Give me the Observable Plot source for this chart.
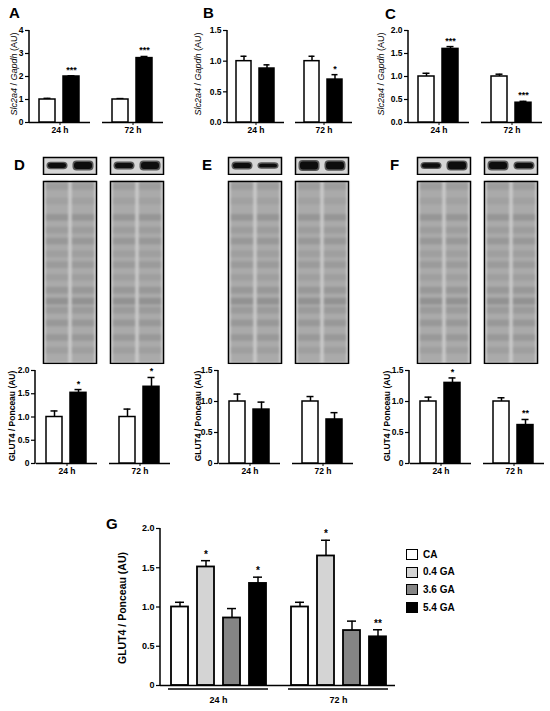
<!DOCTYPE html>
<html><head><meta charset="utf-8">
<script src="https://cdn.jsdelivr.net/npm/d3@7"></script>
<script src="https://cdn.jsdelivr.net/npm/@observablehq/plot@0.6"></script>
<style>
body{margin:0;background:#fff;}
#fig{position:relative;width:550px;height:711px;overflow:hidden;font-family:"Liberation Sans",Arial,sans-serif;color:#000;}
.lbl{position:absolute;font-weight:bold;font-size:15px;line-height:1;}
.ylab{position:absolute;transform:translate(-50%,-50%) rotate(-90deg);white-space:nowrap;line-height:1;}
</style></head><body><div id="fig"></div>
<script>
// ---------- data ----------
const times = ["24 h", "72 h"];
const groups2 = ["CA", "GA"];
const groupsG = ["CA", "0.4 GA", "3.6 GA", "5.4 GA"];
const colorsG = ["#ffffff", "#d4d4d4", "#858585", "#000000"];

// order: 24 h CA, 24 h GA, 72 h CA, 72 h GA
const aMean = [1.0, 2.0, 1.0, 2.8];
const aErr  = [0.05, 0.03, 0.04, 0.07];
const aSig  = ["", "***", "", "***"];

const bMean = [1.0, 0.88, 1.0, 0.70];
const bErr  = [0.08, 0.06, 0.08, 0.08];
const bSig  = ["", "", "", "*"];

const cMean = [1.0, 1.6, 1.0, 0.43];
const cErr  = [0.07, 0.05, 0.05, 0.03];
const cSig  = ["", "***", "", "***"];

const dMean = [1.0, 1.52, 1.0, 1.65];
const dErr  = [0.13, 0.07, 0.17, 0.2];
const dSig  = ["", "*", "", "*"];

const eMean = [1.0, 0.87, 1.0, 0.71];
const eErr  = [0.12, 0.12, 0.08, 0.11];
const eSig  = ["", "", "", ""];

const fMean = [1.0, 1.3, 1.0, 0.62];
const fErr  = [0.07, 0.08, 0.06, 0.09];
const fSig  = ["", "*", "", "**"];

// panel G, per series: [24 h, 72 h]
const gCA = [1.0, 1.0],   gCAerr = [0.06, 0.06], gCAsig = ["", ""];
const g04 = [1.51, 1.65], g04err = [0.08, 0.2],  g04sig = ["*", "*"];
const g36 = [0.86, 0.70], g36err = [0.12, 0.12], g36sig = ["", ""];
const g54 = [1.3, 0.62],  g54err = [0.08, 0.09], g54sig = ["*", "**"];

// tick values
const ticksA = [0, 1, 2, 3, 4];
const ticksB = [0, 0.5, 1.0, 1.5];
const ticksC = [0, 0.5, 1.0, 1.5, 2.0];
const ticksD = [0, 0.5, 1.0, 1.5, 2.0];
const ticksE = [0, 0.5, 1.0, 1.5];
const ticksF = [0, 0.5, 1.0, 1.5];
const ticksG = [0, 0.5, 1.0, 1.5, 2.0];

// western blot band thickness (fraction of strip), order as above
const bandD = [0.28, 0.42, 0.3, 0.42];
const bandE = [0.3, 0.22, 0.48, 0.45];
const bandF = [0.26, 0.44, 0.42, 0.3];
// Ponceau stain stripes: position (top=0) and darkness
const stripePos = [0.03, 0.11, 0.2, 0.27, 0.33, 0.4, 0.46, 0.53, 0.6, 0.66, 0.71, 0.78, 0.86, 0.93];
const stripeStr = [0.35, 0.25, 0.55, 0.35, 0.5, 0.3, 0.4, 0.3, 0.5, 0.65, 0.4, 0.5, 0.45, 0.3];

// ---------- helpers ----------
const FONT = '"Liberation Sans", Arial, sans-serif';
const fig = document.getElementById("fig");
const svgNS = "http://www.w3.org/2000/svg";

function rows2(mean, err, sig) {
  return times.flatMap((t, ti) => groups2.map((g, gi) => {
    const k = ti * 2 + gi;
    return {time: t, group: g, value: mean[k], hi: mean[k] + err[k], sig: sig[k]};
  }));
}
function rowsG() {
  const series = [[gCA, gCAerr, gCAsig], [g04, g04err, g04sig], [g36, g36err, g36sig], [g54, g54err, g54sig]];
  return times.flatMap((t, ti) => groupsG.map((g, gi) => {
    const [m, e, s] = series[gi];
    return {time: t, group: g, value: m[ti], hi: m[ti] + e[ti], sig: s[ti]};
  }));
}
function place(el, left, top, w, extra = "") {
  const d = document.createElement("div");
  d.style.cssText = `position:absolute;left:${left}px;top:${top}px;width:${w}px;${extra}`;
  d.appendChild(el);
  fig.appendChild(d);
}
function yLineMark(yDomain) {
  return (index, scales, values, dims) => {
    const l = document.createElementNS(svgNS, "line");
    l.setAttribute("x1", dims.marginLeft);
    l.setAttribute("x2", dims.marginLeft);
    l.setAttribute("y1", scales.y(yDomain[0]) + 0.75);
    l.setAttribute("y2", scales.y(yDomain[1]));
    l.setAttribute("stroke", "black");
    l.setAttribute("stroke-width", 1.5);
    return l;
  };
}
const fmt1 = d3.format(".1f");
const fmt0 = d => d === 0 ? "0" : d.toFixed(1);

function barPanel(o) {
  const common = {
    width: o.W, height: o.H, marginLeft: o.ml, marginRight: o.mr, marginTop: o.mt, marginBottom: o.mb,
    style: {fontFamily: FONT, fontSize: o.fs + "px", fontWeight: "bold", background: "transparent", overflow: "visible"}
  };
  const bars = Plot.plot({
    ...common,
    fx: {domain: times, paddingInner: o.fxIn, paddingOuter: o.fxOut, label: null, axis: "bottom",
         tickSize: o.fxTick, tickPadding: o.fxPad, fontSize: o.xfs},
    x: {domain: o.groups, paddingInner: o.xIn, paddingOuter: o.xOut, axis: null},
    y: {domain: o.yDomain, axis: null},
    color: {domain: o.groups, range: o.colors},
    marks: [
      Plot.ruleY([0], {stroke: "black", strokeWidth: 1.5, dy: o.bracket}),
      Plot.ruleX(o.rows, {fx: "time", x: "group", y1: "value", y2: "hi", stroke: "black", strokeWidth: 1.5}),
      Plot.tickY(o.rows, {fx: "time", x: "group", y: "hi", stroke: "black", strokeWidth: 1.5, insetLeft: o.cap, insetRight: o.cap}),
      Plot.barY(o.rows, {fx: "time", x: "group", y: "value", fill: "group", stroke: "black", strokeWidth: o.bsw}),
      Plot.text(o.rows.filter(d => d.sig), {fx: "time", x: "group", y: "hi", text: "sig", dy: -3,
        lineAnchor: "bottom", fontSize: o.sfs, fontWeight: "bold"})
    ]
  });
  place(bars, o.left, o.top, o.W);
  const axisMarks = [
    Plot.axisY({ticks: o.ticks, tickFormat: o.fmt, tickSize: 4, tickPadding: 2, label: null, strokeWidth: 1.2}),
    yLineMark(o.yDomain)
  ];
  if (o.fullX) axisMarks.push(Plot.ruleY([0], {stroke: "black", strokeWidth: 1.5}));
  const axis = Plot.plot({...common, y: {domain: o.yDomain}, marks: axisMarks});
  place(axis, o.left, o.top, o.W);
}

const blotFx = {domain: times, paddingInner: 0.2074, paddingOuter: 0, axis: null};
const blotX = {domain: groups2, padding: 0, axis: null};

function bandBlot(thick, left) {
  const rows = times.flatMap((t, ti) => groups2.map((g, gi) => ({time: t, lane: g, w: thick[ti * 2 + gi]})));
  const body = Plot.plot({
    width: 123, height: 19, margin: 1,
    style: {background: "transparent"},
    fx: blotFx, x: blotX, y: {domain: [0, 1], axis: null},
    marks: [
      Plot.frame({fill: "#d6d6d6"}),
      Plot.barY(rows, {fx: "time", x: "lane", y1: d => 0.5 - d.w / 2 - 0.08, y2: d => 0.5 + d.w / 2 + 0.08,
        fill: "#555", insetLeft: 2.5, insetRight: 2.5, rx: 4}),
      Plot.barY(rows, {fx: "time", x: "lane", y1: d => 0.5 - d.w / 2, y2: d => 0.5 + d.w / 2,
        fill: "#0d0d0d", insetLeft: 4, insetRight: 4, rx: 3})
    ]
  });
  place(body, left, 156, 123, "filter:blur(0.5px);");
  const frame = Plot.plot({
    width: 123, height: 19, margin: 1, style: {background: "transparent"},
    fx: blotFx, x: blotX, y: {domain: [0, 1], axis: null},
    marks: [Plot.barY(rows, {fx: "time", x: "lane", y1: 0, y2: 0, fillOpacity: 0}), Plot.frame({stroke: "black", strokeWidth: 1.5})]
  });
  place(frame, left, 156, 123);
}
function ponceauBlot(left) {
  const lanes = times.flatMap(t => groups2.map(g => ({time: t, lane: g})));
  const stripes = lanes.flatMap(l => stripePos.map((s, i) => ({...l, p: s, s: stripeStr[i]})));
  const shade = d3.interpolateRgb("#aaaaaa", "#606060");
  const body = Plot.plot({
    width: 123, height: 184, margin: 1,
    style: {background: "transparent"},
    fx: blotFx, x: blotX, y: {domain: [0, 1], reverse: true, axis: null},
    marks: [
      Plot.frame({fill: "#c9c9c9"}),
      Plot.barY(lanes, {fx: "time", x: "lane", y1: 0, y2: 1, fill: "#aaaaaa", insetLeft: 1.8, insetRight: 1.8}),
      Plot.barY(stripes, {fx: "time", x: "lane", y1: d => d.p - 0.018, y2: d => d.p + 0.018,
        fill: d => shade(d.s * 0.5), insetLeft: 1.8, insetRight: 1.8})
    ]
  });
  place(body, left, 180, 123, "filter:blur(0.8px);");
  const frame = Plot.plot({
    width: 123, height: 184, margin: 1, style: {background: "transparent"},
    fx: blotFx, x: blotX, y: {domain: [0, 1], axis: null},
    marks: [Plot.barY(lanes, {fx: "time", x: "lane", y1: 0, y2: 0, fillOpacity: 0}), Plot.frame({stroke: "black", strokeWidth: 1.5})]
  });
  place(frame, left, 180, 123);
}

// ---------- top row: A, B, C ----------
const topCommon = {top: 0, H: 140, mt: 30, mb: 18, mr: 5, groups: groups2, colors: ["#ffffff", "#000000"],
  fxIn: 0.165, fxOut: 0, fxTick: 3, fxPad: 1, xIn: 0.33, xOut: 0.4, cap: 4.5, bsw: 1.5,
  fs: 8.5, xfs: 8.5, sfs: 9, bracket: 0};
barPanel({...topCommon, left: 0, W: 168, ml: 29, rows: rows2(aMean, aErr, aSig), yDomain: [0, 4], ticks: ticksA, fmt: d3.format("d")});
barPanel({...topCommon, left: 197, W: 160, ml: 30, rows: rows2(bMean, bErr, bSig), yDomain: [0, 1.5], ticks: ticksB, fmt: fmt1});
barPanel({...topCommon, left: 378, W: 169, ml: 30, rows: rows2(cMean, cErr, cSig), yDomain: [0, 2], ticks: ticksC, fmt: fmt1});

// ---------- middle row: D, E, F ----------
const midCommon = {...topCommon, top: 340, H: 141, mt: 30, mb: 18, W: 170, ml: 30};
barPanel({...midCommon, left: 5, rows: rows2(dMean, dErr, dSig), yDomain: [0, 2], ticks: ticksD, fmt: fmt0});
barPanel({...midCommon, left: 188, rows: rows2(eMean, eErr, eSig), yDomain: [0, 1.5], ticks: ticksE, fmt: fmt0});
barPanel({...midCommon, left: 379, rows: rows2(fMean, fErr, fSig), yDomain: [0, 1.5], ticks: ticksF, fmt: fmt0});

// blots
bandBlot(bandD, 42);  ponceauBlot(42);
bandBlot(bandE, 227); ponceauBlot(227);
bandBlot(bandF, 416); ponceauBlot(416);

// ---------- G ----------
barPanel({top: 500, left: 120, W: 280, H: 211, ml: 40, mr: 5, mt: 28, mb: 26,
  groups: groupsG, colors: colorsG, rows: rowsG(), yDomain: [0, 2], ticks: ticksG, fmt: fmt0,
  fxIn: 0.167, fxOut: 0.0625, fxTick: 0, fxPad: 11, xIn: 0.365, xOut: 0.1, cap: 4, bsw: 1.8,
  fs: 9, xfs: 9.5, sfs: 10, bracket: 3.5, fullX: true});

// legend for G
groupsG.forEach((g, i) => {
  const top = 549 + i * 17.7;
  const sw = document.createElement("div");
  sw.style.cssText = `position:absolute;left:406px;top:${top}px;width:10px;height:9px;border:1.6px solid #000;background:${colorsG[i]};`;
  fig.appendChild(sw);
  const tx = document.createElement("div");
  tx.style.cssText = `position:absolute;left:423px;top:${top - 0.5}px;font-size:10px;font-weight:bold;line-height:12px;`;
  tx.textContent = g;
  fig.appendChild(tx);
});

// ---------- panel letters ----------
[["A", 9, 5], ["B", 203, 5], ["C", 385, 6], ["D", 14, 157], ["E", 202, 157], ["F", 390, 157], ["G", 106, 516]]
  .forEach(([t, x, y]) => {
    const d = document.createElement("div");
    d.className = "lbl"; d.textContent = t;
    d.style.left = x + "px"; d.style.top = y + "px";
    fig.appendChild(d);
  });

// ---------- y-axis titles ----------
function ylab(html, cx, cy, size, weight) {
  const d = document.createElement("div");
  d.className = "ylab"; d.innerHTML = html;
  d.style.left = cx + "px"; d.style.top = cy + "px";
  d.style.fontSize = size + "px"; d.style.fontWeight = weight;
  fig.appendChild(d);
}
const slcLab = "<i>Slc2a4</i> / <i>Gapdh</i> (AU)";
ylab(slcLab, 14, 74, 9, "normal");
ylab(slcLab, 198, 74, 9, "normal");
ylab(slcLab, 381, 74, 9, "normal");
const glutLab = "GLUT4 / Ponceau (AU)";
ylab(glutLab, 12, 416, 8.5, "bold");
ylab(glutLab, 198, 416, 8.5, "bold");
ylab(glutLab, 387, 416, 8.5, "bold");
ylab(glutLab, 122, 608, 10.5, "bold");
</script></body></html>
